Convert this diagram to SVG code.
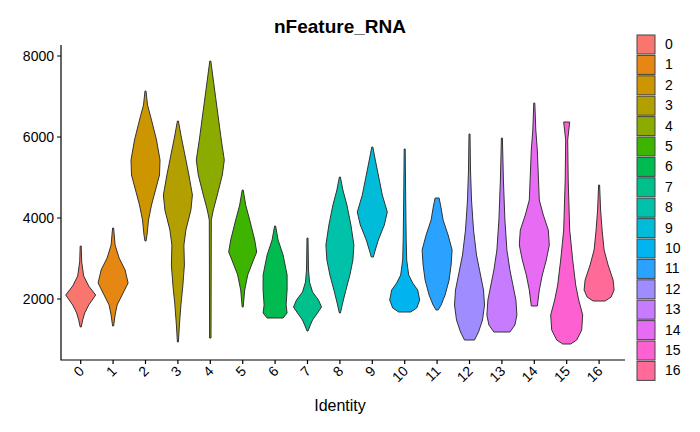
<svg xmlns="http://www.w3.org/2000/svg" width="700" height="432" viewBox="0 0 700 432">
<style>
text{font-family:"Liberation Sans",Arial,sans-serif;fill:#000}
.v{stroke:#333;stroke-width:1;stroke-linejoin:round}
.ax{stroke:#000;stroke-width:1.2;fill:none}
.yl{font-size:14px;text-anchor:end}
.xl{font-size:14px;text-anchor:end}
.lg{stroke:#444;stroke-width:1}
.lt{font-size:14px}
</style>
<rect width="700" height="432" fill="#fff"/>
<text x="340" y="33" font-size="19" font-weight="bold" text-anchor="middle">nFeature_RNA</text>
<g id="axes">
<path class="ax" d="M61,45V360H625"/>
<path class="ax" d="M57,56H61M57,137H61M57,218H61M57,299H61"/>
<text class="yl" x="54" y="61">8000</text>
<text class="yl" x="54" y="142">6000</text>
<text class="yl" x="54" y="223">4000</text>
<text class="yl" x="54" y="304">2000</text>
<text x="340" y="411" font-size="16" text-anchor="middle">Identity</text>
</g>
<g id="violins">
<polygon id="v0" class="v" fill="#F8766D" transform="translate(80.7,0)" points="0.5,246 1,262 3,276 8,286 15,295 8,305 4,313 2,320 0.5,327 -0.5,327 -2,320 -4,313 -8,305 -15,295 -8,286 -3,276 -1,262 -0.5,246"/>
<polygon id="v1" class="v" fill="#E68613" transform="translate(113.1,0)" points="0.5,228 2,245 6,258 12,270 15,283 9,295 4,305 2,315 0.5,326 -0.5,326 -2,315 -4,305 -9,295 -15,283 -12,270 -6,258 -2,245 -0.5,228"/>
<polygon id="v2" class="v" fill="#CD9600" transform="translate(145.5,0)" points="0.5,91 2,105 6,120 11,140 14.5,160 14,175 10,190 6,205 3,220 1.5,235 0.5,241 -0.5,241 -1.5,235 -3,220 -6,205 -10,190 -14,175 -14.5,160 -11,140 -6,120 -2,105 -0.5,91"/>
<polygon id="v3" class="v" fill="#B3A000" transform="translate(177.9,0)" points="0.5,121 3,135 7,155 11,175 14.5,195 13,210 8,230 6,245 6.5,265 5,285 3,305 1.5,325 0.5,342 -0.5,342 -1.5,325 -3,305 -5,285 -6.5,265 -6,245 -8,230 -13,210 -14.5,195 -11,175 -7,155 -3,135 -0.5,121"/>
<polygon id="v4" class="v" fill="#8CAB00" transform="translate(210.3,0)" points="0.5,61 3,80 7,110 11,140 14,160 12,175 7,195 3,210 1,220 0.7,338 -0.7,338 -1,220 -3,210 -7,195 -12,175 -14,160 -11,140 -7,110 -3,80 -0.5,61"/>
<polygon id="v5" class="v" fill="#3DB500" transform="translate(242.7,0)" points="0.5,190 3,205 7,220 12,240 14,252 10,262 5,275 2,290 0.5,307 -0.5,307 -2,290 -5,275 -10,262 -14,252 -12,240 -7,220 -3,205 -0.5,190"/>
<polygon id="v6" class="v" fill="#00BC50" transform="translate(275.1,0)" points="0.5,226 3,240 8,255 12,275 12,290 11,305 12,313 8,318 -8,318 -12,313 -11,305 -12,290 -12,275 -8,255 -3,240 -0.5,226"/>
<polygon id="v7" class="v" fill="#00C08B" transform="translate(307.5,0)" points="0.5,238 1,270 2,282 5,292 11,300 14,307 10,313 5,320 2,327 0.5,331 -0.5,331 -2,327 -5,320 -10,313 -14,307 -11,300 -5,292 -2,282 -1,270 -0.5,238"/>
<polygon id="v8" class="v" fill="#00C1AA" transform="translate(339.9,0)" points="0.5,177 3,190 7,205 11,225 14,245 13,260 10,275 6,290 3,302 0.5,313 -0.5,313 -3,302 -6,290 -10,275 -13,260 -14,245 -11,225 -7,205 -3,190 -0.5,177"/>
<polygon id="v9" class="v" fill="#00BCD8" transform="translate(372.3,0)" points="0.5,147 3,160 6,175 10,195 15,212 12,225 6,240 3,250 1,257 -1,257 -3,250 -6,240 -12,225 -15,212 -10,195 -6,175 -3,160 -0.5,147"/>
<polygon id="v10" class="v" fill="#00B4F0" transform="translate(404.7,0)" points="0.5,149 1,200 1.5,240 2,260 4,275 8,283 13,290 15,300 12,308 6,312 -6,312 -12,308 -15,300 -13,290 -8,283 -4,275 -2,260 -1.5,240 -1,200 -0.5,149"/>
<polygon id="v11" class="v" fill="#29A3FF" transform="translate(437.1,0)" points="2,198 4,208 6,220 11,235 15,250 14,265 12,280 8,295 4,305 1,310 -1,310 -4,305 -8,295 -12,280 -14,265 -15,250 -11,235 -6,220 -4,208 -2,198"/>
<polygon id="v12" class="v" fill="#9F8CFF" transform="translate(469.5,0)" points="0.5,134 1,170 2,200 4,230 7,255 10,270 14,290 15,305 13,320 9,332 5,340 -5,340 -9,332 -13,320 -15,305 -14,290 -10,270 -7,255 -4,230 -2,200 -1,170 -0.5,134"/>
<polygon id="v13" class="v" fill="#C77CFF" transform="translate(501.9,0)" points="0.5,138 1.5,180 3,220 5,250 8,270 11,285 14,300 15,315 13,325 8,332 -8,332 -13,325 -15,315 -14,300 -11,285 -8,270 -5,250 -3,220 -1.5,180 -0.5,138"/>
<polygon id="v14" class="v" fill="#E76BF3" transform="translate(534.3,0)" points="0.5,103 1.5,130 3,150 4,175 5,200 9,215 14,230 15,245 12,260 8,275 5,290 3,306 -3,306 -5,290 -8,275 -12,260 -15,245 -14,230 -9,215 -5,200 -4,175 -3,150 -1.5,130 -0.5,103"/>
<polygon id="v15" class="v" fill="#FD61D1" transform="translate(566.7,0)" points="3,122 1,140 1.5,180 3,230 6,260 9,285 12,300 16,315 15,330 10,340 4,344 -4,344 -10,340 -15,330 -16,315 -12,300 -9,285 -6,260 -3,230 -1.5,180 -1,140 -3,122"/>
<polygon id="v16" class="v" fill="#FF6A98" transform="translate(599.1,0)" points="0.5,185 1.5,210 3,230 5,250 9,265 14,280 15,290 12,297 6,301 -6,301 -12,297 -15,290 -14,280 -9,265 -5,250 -3,230 -1.5,210 -0.5,185"/>
</g>
<g id="xticks">
<path class="ax" d="M80.7,360v4M113.1,360v4M145.5,360v4M177.9,360v4M210.3,360v4M242.7,360v4M275.1,360v4M307.5,360v4M339.9,360v4M372.3,360v4M404.7,360v4M437.1,360v4M469.5,360v4M501.9,360v4M534.3,360v4M566.7,360v4M599.1,360v4"/>
<text class="xl" transform="translate(85,372) rotate(-45)">0</text>
<text class="xl" transform="translate(117.4,372) rotate(-45)">1</text>
<text class="xl" transform="translate(149.8,372) rotate(-45)">2</text>
<text class="xl" transform="translate(182.2,372) rotate(-45)">3</text>
<text class="xl" transform="translate(214.6,372) rotate(-45)">4</text>
<text class="xl" transform="translate(247,372) rotate(-45)">5</text>
<text class="xl" transform="translate(279.4,372) rotate(-45)">6</text>
<text class="xl" transform="translate(311.8,372) rotate(-45)">7</text>
<text class="xl" transform="translate(344.2,372) rotate(-45)">8</text>
<text class="xl" transform="translate(376.6,372) rotate(-45)">9</text>
<text class="xl" transform="translate(409,372) rotate(-45)">10</text>
<text class="xl" transform="translate(441.4,372) rotate(-45)">11</text>
<text class="xl" transform="translate(473.8,372) rotate(-45)">12</text>
<text class="xl" transform="translate(506.2,372) rotate(-45)">13</text>
<text class="xl" transform="translate(538.6,372) rotate(-45)">14</text>
<text class="xl" transform="translate(571,372) rotate(-45)">15</text>
<text class="xl" transform="translate(603.4,372) rotate(-45)">16</text>
</g>
<g id="legend">
<rect class="lg" x="637" y="35" width="18" height="19" fill="#F8766D"/><text class="lt" x="665" y="49">0</text>
<rect class="lg" x="637" y="55.4" width="18" height="19" fill="#E68613"/><text class="lt" x="665" y="69.4">1</text>
<rect class="lg" x="637" y="75.8" width="18" height="19" fill="#CD9600"/><text class="lt" x="665" y="89.8">2</text>
<rect class="lg" x="637" y="96.2" width="18" height="19" fill="#B3A000"/><text class="lt" x="665" y="110.2">3</text>
<rect class="lg" x="637" y="116.6" width="18" height="19" fill="#8CAB00"/><text class="lt" x="665" y="130.6">4</text>
<rect class="lg" x="637" y="137" width="18" height="19" fill="#3DB500"/><text class="lt" x="665" y="151">5</text>
<rect class="lg" x="637" y="157.4" width="18" height="19" fill="#00BC50"/><text class="lt" x="665" y="171.4">6</text>
<rect class="lg" x="637" y="177.8" width="18" height="19" fill="#00C08B"/><text class="lt" x="665" y="191.8">7</text>
<rect class="lg" x="637" y="198.2" width="18" height="19" fill="#00C1AA"/><text class="lt" x="665" y="212.2">8</text>
<rect class="lg" x="637" y="218.6" width="18" height="19" fill="#00BCD8"/><text class="lt" x="665" y="232.6">9</text>
<rect class="lg" x="637" y="239" width="18" height="19" fill="#00B4F0"/><text class="lt" x="665" y="253">10</text>
<rect class="lg" x="637" y="259.4" width="18" height="19" fill="#29A3FF"/><text class="lt" x="665" y="273.4">11</text>
<rect class="lg" x="637" y="279.8" width="18" height="19" fill="#9F8CFF"/><text class="lt" x="665" y="293.8">12</text>
<rect class="lg" x="637" y="300.2" width="18" height="19" fill="#C77CFF"/><text class="lt" x="665" y="314.2">13</text>
<rect class="lg" x="637" y="320.6" width="18" height="19" fill="#E76BF3"/><text class="lt" x="665" y="334.6">14</text>
<rect class="lg" x="637" y="341" width="18" height="19" fill="#FD61D1"/><text class="lt" x="665" y="355">15</text>
<rect class="lg" x="637" y="361.4" width="18" height="19" fill="#FF6A98"/><text class="lt" x="665" y="375.4">16</text>
</g>
</svg>
